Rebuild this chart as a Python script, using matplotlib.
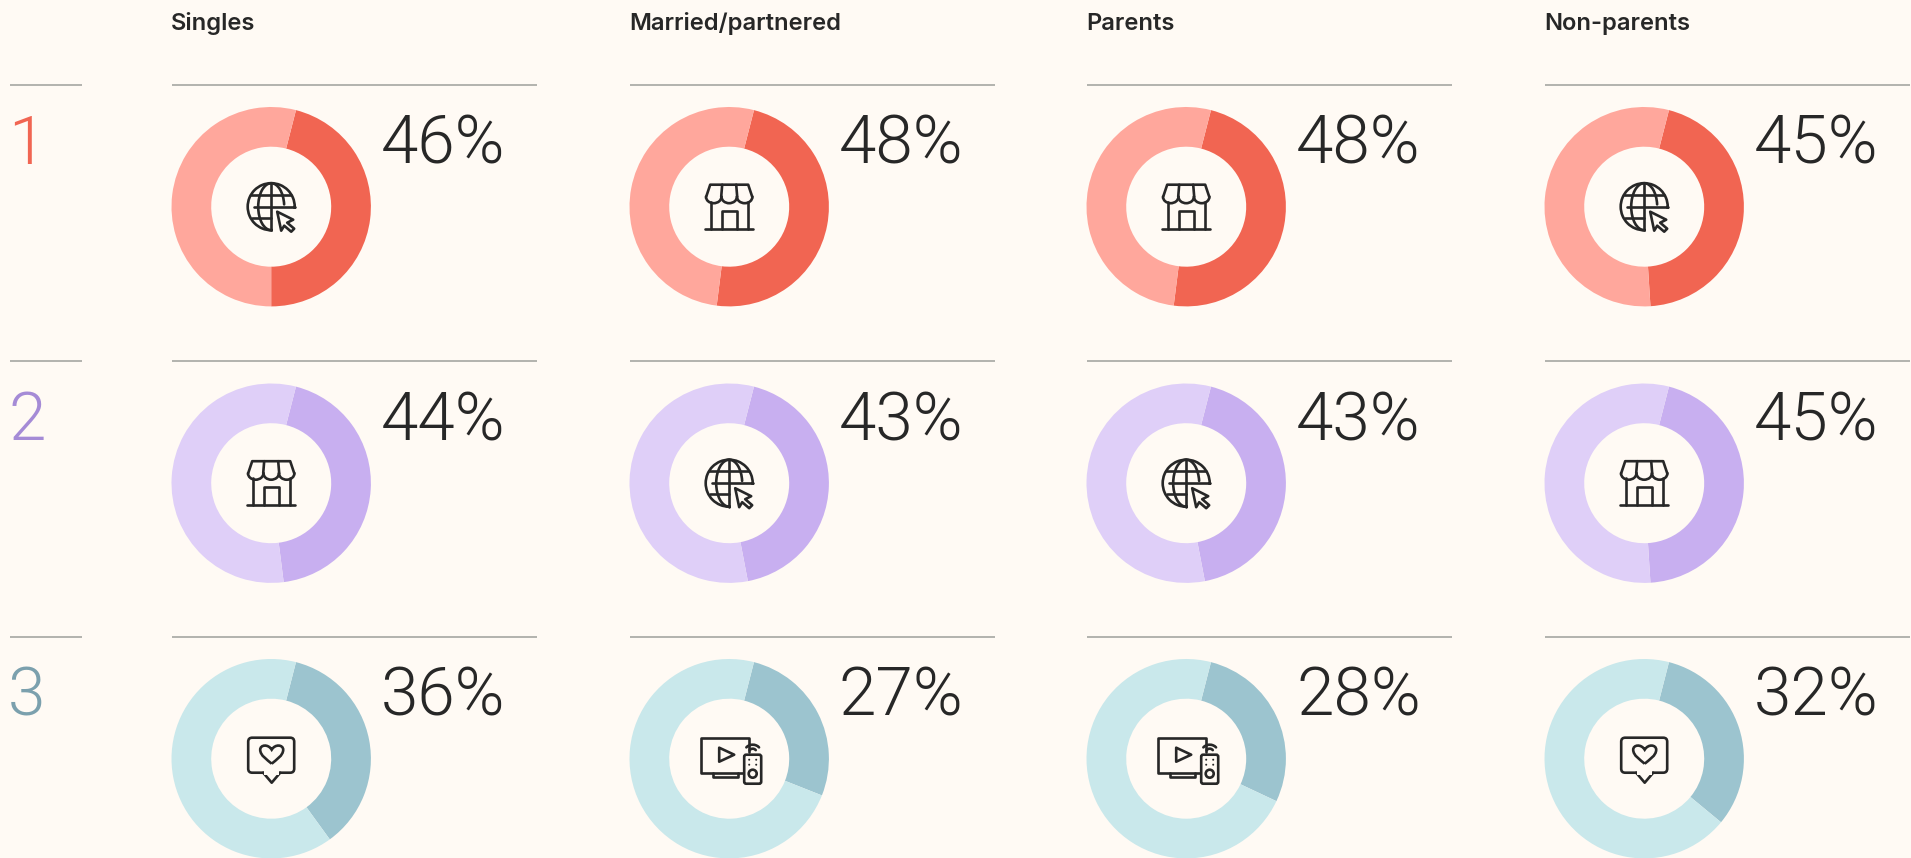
"""Donut grid: top three ranks by audience segment."""
import matplotlib
matplotlib.use("Agg")
import matplotlib.pyplot as plt
from matplotlib.patches import Arc, Circle, FancyBboxPatch, PathPatch, Polygon, Rectangle
from matplotlib.path import Path

W, H = 1911, 858
BG = "#FFFAF4"
INK = "#272727"

SEGMENTS = ["Singles", "Married/partnered", "Parents", "Non-parents"]
RANKS = ["1", "2", "3"]
VALUES = [
    [46, 48, 48, 45],
    [44, 43, 43, 45],
    [36, 27, 28, 32],
]
ICONS = [
    ["globe", "store", "store", "globe"],
    ["store", "globe", "globe", "store"],
    ["heart", "tv", "tv", "heart"],
]
DARK = ["#F16552", "#C8AFF0", "#9CC4CF"]
LIGHT = ["#FFA79C", "#DFCFF8", "#C9E8EB"]
RANK_COLORS = ["#F16552", "#A58BD6", "#7BA0AD"]

COL_X = [172, 630, 1087, 1545]
ROW_Y = [84.5, 361, 636.5]
COL_W = 365
R = 99.7
HOLE = 60
LW = 1.9


def stroke(ax, cx, cy, pts, closed=False):
    pts = [(cx + x, cy + y) for x, y in pts]
    ax.add_patch(Polygon(pts, closed=closed, fill=False, ec=INK, lw=LW,
                         joinstyle="round", capstyle="round", zorder=5))


def arc(ax, cx, cy, w, h, a1, a2, zorder=5):
    ax.add_patch(Arc((cx, cy), w, h, theta1=a1, theta2=a2, ec=INK, lw=LW,
                     zorder=zorder, capstyle="round"))


def draw_globe(ax, cx, cy):
    # y axis points down here, so the arcs run the other way round
    arc(ax, cx, cy, 47, 47, 0, 360)
    ax.add_patch(Rectangle((cx + 2, cy + 2), 25, 25, fc=BG, ec="none", zorder=5.5))
    for pts in ([(0, -23), (0, 23.5)], [(-20, -12), (20, -12)], [(-19, 11), (0, 11)],
                [(-17, 0), (23.5, 0)]):
        ax.plot([cx + p[0] for p in pts], [cy + p[1] for p in pts], color=INK,
                lw=LW, zorder=6, solid_capstyle="round")
    arc(ax, cx, cy, 26, 47, 90, 270, zorder=6)
    arc(ax, cx, cy, 26, 47, 270, 350, zorder=6)
    cursor = [(6, 5), (22, 13), (16, 16), (23, 22), (20, 25), (13, 19), (10, 24)]
    ax.add_patch(Polygon([(cx + x, cy + y) for x, y in cursor], closed=True, fc=BG,
                         ec=INK, lw=LW, joinstyle="round", zorder=7))


def draw_store(ax, cx, cy):
    stroke(ax, cx, cy, [(-24, 22), (24, 22)])
    stroke(ax, cx, cy, [(-18.5, -5), (-18.5, 22)])
    stroke(ax, cx, cy, [(18.5, -5), (18.5, 22)])
    stroke(ax, cx, cy, [(-7, 22), (-7, 4), (8, 4), (8, 22)])
    stroke(ax, cx, cy, [(-23, -10), (-19, -22), (19, -22), (23, -10)])
    stroke(ax, cx, cy, [(-7, -22), (-8, -10)])
    stroke(ax, cx, cy, [(7, -22), (8, -10)])
    for x0 in (-15.5, 0, 15.5):
        arc(ax, cx + x0, cy - 10, 15.5, 13, 0, 180)


def draw_heart(ax, cx, cy):
    ax.add_patch(FancyBboxPatch((cx - 23, cy - 21), 46, 35,
                                boxstyle="round,pad=0,rounding_size=4",
                                fill=False, ec=INK, lw=LW, zorder=5))
    ax.add_patch(Rectangle((cx - 7, cy + 12), 15, 4, fc=BG, ec="none", zorder=5.5))
    stroke(ax, cx, cy, [(-8, 14), (0.5, 24), (9, 14)])
    verts = [(0.5, 7), (-4, 3), (-11, -1), (-11, -7), (-11, -12), (-3, -13), (0.5, -7),
             (4, -13), (12, -12), (12, -7), (12, -1), (5, 3), (0.5, 7)]
    codes = [Path.MOVETO] + [Path.CURVE4] * 12
    ax.add_patch(PathPatch(Path([(cx + x, cy - 2 + y) for x, y in verts], codes),
                           fill=False, ec=INK, lw=LW, zorder=5))


def draw_tv(ax, cx, cy):
    stroke(ax, cx, cy, [(14, 14), (-28, 14), (-28, -21), (20, -21), (20, -7)])
    stroke(ax, cx, cy, [(-16, 14), (-16, 18), (9, 18), (9, 14)])
    stroke(ax, cx, cy, [(-10, -11), (5, -4), (-10, 3)], closed=True)
    ax.add_patch(FancyBboxPatch((cx + 15, cy - 4), 17, 29,
                                boxstyle="round,pad=0,rounding_size=2",
                                fill=False, ec=INK, lw=LW, zorder=5))
    ax.add_patch(Circle((cx + 23.5, cy + 15), 4, fill=False, ec=INK, lw=LW, zorder=5))
    for dx in (20, 27):
        for dy in (1, 6):
            ax.add_patch(Circle((cx + dx, cy + dy), 1, fc=INK, ec="none", zorder=5))
    arc(ax, cx + 23.5, cy - 6, 8, 8, 220, 320)
    arc(ax, cx + 23.5, cy - 6, 17, 16, 220, 320)


DRAW_ICON = {"globe": draw_globe, "store": draw_store, "heart": draw_heart, "tv": draw_tv}

plt.rcParams["font.family"] = ["Inter", "DejaVu Sans"]
fig = plt.figure(figsize=(W / 100, H / 100), dpi=100, facecolor=BG)
ax = fig.add_axes([0, 0, 1, 1], zorder=3)
ax.set_xlim(0, W)
ax.set_ylim(H, 0)
ax.axis("off")

for x, seg in zip(COL_X, SEGMENTS):
    ax.text(x - 1, 30, seg, fontsize=17.1, fontweight=600, color=INK, va="baseline")

for ri, rank in enumerate(RANKS):
    y0 = ROW_Y[ri]
    ax.plot([10, 81.5], [y0, y0], color="#A6A6A2", lw=1.2, solid_capstyle="butt")
    ax.text(8, y0 + 79.5, rank, fontsize=48.5, family="Roboto", fontweight=300,
            color=RANK_COLORS[ri], va="baseline")
    for ci, x0 in enumerate(COL_X):
        ax.plot([x0, x0 + COL_W], [y0, y0], color="#A6A6A2", lw=1.2, solid_capstyle="butt")
        val = VALUES[ri][ci]
        cx, cy = x0 + R - 0.5, y0 + 22.5 + R
        sub = fig.add_axes([(cx - R) / W, 1 - (cy + R) / H, 2 * R / W, 2 * R / H], zorder=1)
        sub.pie([val, 100 - val], colors=[DARK[ri], LIGHT[ri]], startangle=90 - 14.4,
                counterclock=False, radius=1,
                wedgeprops={"width": 1 - HOLE / R, "linewidth": 0})
        sub.set_xlim(-1, 1)
        sub.set_ylim(-1, 1)
        DRAW_ICON[ICONS[ri][ci]](ax, cx, cy)
        ax.text(x0 + 209, y0 + 79.5, f"{val}%", fontsize=48.5, family="Roboto", fontweight=300,
                color=INK, va="baseline")

fig.savefig("out.png", dpi=100, facecolor=BG)
